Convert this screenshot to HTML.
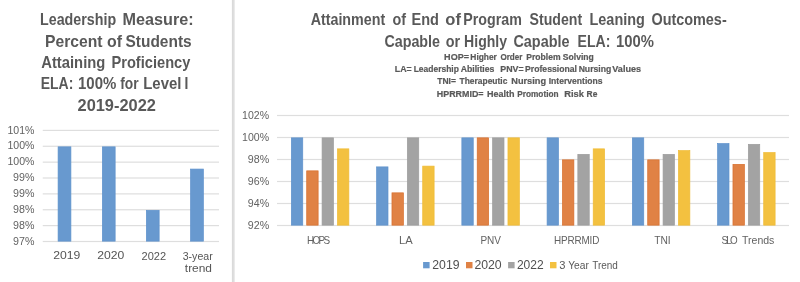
<!DOCTYPE html>
<html><head><meta charset="utf-8"><style>
html,body{margin:0;padding:0;background:#fff;width:800px;height:282px;overflow:hidden}
svg{display:block;font-family:"Liberation Sans",sans-serif}
text{will-change:transform}
</style></head><body>
<svg width="800" height="282" viewBox="0 0 800 282">
<rect width="800" height="282" fill="#fff"/>
<defs><linearGradient id="dv" x1="0" x2="1" y1="0" y2="0"><stop offset="0" stop-color="#d8d8d8"/><stop offset="0.5" stop-color="#dddddd"/><stop offset="1" stop-color="#ececec"/></linearGradient></defs>
<rect x="231.9" y="0" width="3.0" height="282" fill="url(#dv)"/>
<text transform="translate(40.07,24.90) scale(0.8915,1)" font-size="16" font-weight="bold" fill="#595959" letter-spacing="0.000">Leadership</text>
<text transform="translate(122.55,24.90) scale(1.0136,1)" font-size="16" font-weight="bold" fill="#595959" letter-spacing="0.000">Measure:</text>
<text transform="translate(44.98,46.60) scale(0.9819,1)" font-size="16" font-weight="bold" fill="#595959" letter-spacing="0.000">Percent</text>
<text transform="translate(106.96,46.60) scale(0.9945,1)" font-size="16" font-weight="bold" fill="#595959" letter-spacing="0.000">of</text>
<text transform="translate(125.54,46.60) scale(0.9661,1)" font-size="16" font-weight="bold" fill="#595959" letter-spacing="0.000">Students</text>
<text transform="translate(41.23,68.25) scale(0.9257,1)" font-size="16" font-weight="bold" fill="#595959" letter-spacing="0.000">Attaining</text>
<text transform="translate(111.45,68.25) scale(0.9164,1)" font-size="16" font-weight="bold" fill="#595959" letter-spacing="0.000">Proficiency</text>
<text transform="translate(40.69,88.90) scale(0.8756,1)" font-size="16" font-weight="bold" fill="#595959" letter-spacing="0.000">ELA:</text>
<text transform="translate(78.03,88.90) scale(0.9362,1)" font-size="16" font-weight="bold" fill="#595959" letter-spacing="0.000">100%</text>
<text transform="translate(120.19,88.90) scale(0.8621,1)" font-size="16" font-weight="bold" fill="#595959" letter-spacing="0.000">for</text>
<text transform="translate(143.23,88.90) scale(0.9349,1)" font-size="16" font-weight="bold" fill="#595959" letter-spacing="0.000">Level</text>
<text transform="translate(184.60,88.90) scale(0.8621,1)" font-size="16" font-weight="bold" fill="#595959" letter-spacing="0.000">I</text>
<text transform="translate(77.53,110.75) scale(1.0248,1)" font-size="16" font-weight="bold" fill="#595959" letter-spacing="0.000">2019-2022</text>
<rect x="42.75" y="129.80" width="176.25" height="1.20" fill="#dedede"/>
<text transform="translate(7.41,133.50) scale(0.9699,1)" font-size="10.9" font-weight="normal" fill="#626262" letter-spacing="0.000">101%</text>
<rect x="42.75" y="145.67" width="176.25" height="1.20" fill="#dedede"/>
<text transform="translate(7.41,149.37) scale(0.9699,1)" font-size="10.9" font-weight="normal" fill="#626262" letter-spacing="0.000">100%</text>
<rect x="42.75" y="161.54" width="176.25" height="1.20" fill="#dedede"/>
<text transform="translate(7.41,165.24) scale(0.9699,1)" font-size="10.9" font-weight="normal" fill="#626262" letter-spacing="0.000">100%</text>
<rect x="42.75" y="177.41" width="176.25" height="1.20" fill="#dedede"/>
<text transform="translate(13.12,181.11) scale(0.9795,1)" font-size="10.9" font-weight="normal" fill="#626262" letter-spacing="0.000">99%</text>
<rect x="42.75" y="193.28" width="176.25" height="1.20" fill="#dedede"/>
<text transform="translate(13.12,196.98) scale(0.9795,1)" font-size="10.9" font-weight="normal" fill="#626262" letter-spacing="0.000">99%</text>
<rect x="42.75" y="209.15" width="176.25" height="1.20" fill="#dedede"/>
<text transform="translate(13.12,212.85) scale(0.9795,1)" font-size="10.9" font-weight="normal" fill="#626262" letter-spacing="0.000">98%</text>
<rect x="42.75" y="225.02" width="176.25" height="1.20" fill="#dedede"/>
<text transform="translate(13.12,228.72) scale(0.9795,1)" font-size="10.9" font-weight="normal" fill="#626262" letter-spacing="0.000">98%</text>
<rect x="42.75" y="240.89" width="176.25" height="1.20" fill="#dedede"/>
<text transform="translate(13.12,244.59) scale(0.9795,1)" font-size="10.9" font-weight="normal" fill="#626262" letter-spacing="0.000">97%</text>
<rect x="58.10" y="146.85" width="12.80" height="94.29" fill="#6899cf" stroke="#5e92cc" stroke-width="0.7"/>
<rect x="102.35" y="146.85" width="12.80" height="94.29" fill="#6899cf" stroke="#5e92cc" stroke-width="0.7"/>
<rect x="146.35" y="210.33" width="12.80" height="30.81" fill="#6899cf" stroke="#5e92cc" stroke-width="0.7"/>
<rect x="190.55" y="169.07" width="12.80" height="72.07" fill="#6899cf" stroke="#5e92cc" stroke-width="0.7"/>
<text transform="translate(53.14,259.40) scale(1.0899,1)" font-size="11.2" font-weight="normal" fill="#555555" letter-spacing="0.000">2019</text>
<text transform="translate(97.14,259.40) scale(1.0873,1)" font-size="11.2" font-weight="normal" fill="#555555" letter-spacing="0.000">2020</text>
<text transform="translate(141.55,259.60) scale(0.9874,1)" font-size="11.2" font-weight="normal" fill="#555555" letter-spacing="0.000">2022</text>
<text transform="translate(182.68,259.60) scale(0.9459,1)" font-size="11.2" font-weight="normal" fill="#555555" letter-spacing="0.000">3-year</text>
<text transform="translate(184.82,272.25) scale(1.0653,1)" font-size="11.2" font-weight="normal" fill="#555555" letter-spacing="0.000">trend</text>
<text transform="translate(310.64,24.75) scale(0.8920,1)" font-size="16" font-weight="bold" fill="#595959" letter-spacing="0.000">Attainment</text>
<text transform="translate(392.43,24.75) scale(0.8978,1)" font-size="16" font-weight="bold" fill="#595959" letter-spacing="0.000">of</text>
<text transform="translate(411.45,24.75) scale(0.9091,1)" font-size="16" font-weight="bold" fill="#595959" letter-spacing="0.000">End</text>
<text transform="translate(445.34,24.75) scale(1.0359,1)" font-size="16" font-weight="bold" fill="#595959" letter-spacing="0.000">of</text>
<text transform="translate(463.27,24.75) scale(0.8908,1)" font-size="16" font-weight="bold" fill="#595959" letter-spacing="0.000">Program</text>
<text transform="translate(529.58,24.75) scale(0.8832,1)" font-size="16" font-weight="bold" fill="#595959" letter-spacing="0.000">Student</text>
<text transform="translate(589.46,24.75) scale(0.9042,1)" font-size="16" font-weight="bold" fill="#595959" letter-spacing="0.000">Leaning</text>
<text transform="translate(651.42,24.75) scale(0.9014,1)" font-size="16" font-weight="bold" fill="#595959" letter-spacing="0.000">Outcomes-</text>
<text transform="translate(384.43,46.50) scale(0.8945,1)" font-size="16" font-weight="bold" fill="#595959" letter-spacing="0.000">Capable</text>
<text transform="translate(445.82,46.50) scale(0.8995,1)" font-size="16" font-weight="bold" fill="#595959" letter-spacing="0.000">or</text>
<text transform="translate(464.09,46.50) scale(0.8794,1)" font-size="16" font-weight="bold" fill="#595959" letter-spacing="0.000">Highly</text>
<text transform="translate(513.42,46.50) scale(0.9010,1)" font-size="16" font-weight="bold" fill="#595959" letter-spacing="0.000">Capable</text>
<text transform="translate(577.48,46.50) scale(0.8813,1)" font-size="16" font-weight="bold" fill="#595959" letter-spacing="0.000">ELA:</text>
<text transform="translate(616.04,46.50) scale(0.9261,1)" font-size="16" font-weight="bold" fill="#595959" letter-spacing="0.000">100%</text>
<text transform="translate(444.11,59.75) scale(1.0551,1)" font-size="8.6" font-weight="bold" fill="#595959" letter-spacing="0.000" stroke="#595959" stroke-width="0.2">HOP=</text>
<text transform="translate(470.36,59.75) scale(0.9746,1)" font-size="8.6" font-weight="bold" fill="#595959" letter-spacing="0.000" stroke="#595959" stroke-width="0.2">Higher</text>
<text transform="translate(500.38,59.75) scale(0.9407,1)" font-size="8.6" font-weight="bold" fill="#595959" letter-spacing="0.000" stroke="#595959" stroke-width="0.2">Order</text>
<text transform="translate(526.24,59.75) scale(0.9975,1)" font-size="8.6" font-weight="bold" fill="#595959" letter-spacing="0.000" stroke="#595959" stroke-width="0.2">Problem</text>
<text transform="translate(562.84,59.75) scale(0.9957,1)" font-size="8.6" font-weight="bold" fill="#595959" letter-spacing="0.000" stroke="#595959" stroke-width="0.2">Solving</text>
<text transform="translate(394.83,72.25) scale(1.0250,1)" font-size="8.6" font-weight="bold" fill="#595959" letter-spacing="0.000" stroke="#595959" stroke-width="0.2">LA=</text>
<text transform="translate(413.65,72.25) scale(0.9871,1)" font-size="8.6" font-weight="bold" fill="#595959" letter-spacing="0.000" stroke="#595959" stroke-width="0.2">Leadership</text>
<text transform="translate(460.68,72.25) scale(1.0093,1)" font-size="8.6" font-weight="bold" fill="#595959" letter-spacing="0.000" stroke="#595959" stroke-width="0.2">Abilities</text>
<text transform="translate(500.32,72.25) scale(1.0321,1)" font-size="8.6" font-weight="bold" fill="#595959" letter-spacing="0.000" stroke="#595959" stroke-width="0.2">PNV=</text>
<text transform="translate(525.04,72.25) scale(1.0072,1)" font-size="8.6" font-weight="bold" fill="#595959" letter-spacing="0.000" stroke="#595959" stroke-width="0.2">Professional</text>
<text transform="translate(578.64,72.25) scale(1.0049,1)" font-size="8.6" font-weight="bold" fill="#595959" letter-spacing="0.000" stroke="#595959" stroke-width="0.2">Nursing</text>
<text transform="translate(612.31,72.25) scale(1.0547,1)" font-size="8.6" font-weight="bold" fill="#595959" letter-spacing="0.000" stroke="#595959" stroke-width="0.2">Values</text>
<text transform="translate(437.32,83.75) scale(0.9866,1)" font-size="8.6" font-weight="bold" fill="#595959" letter-spacing="0.000" stroke="#595959" stroke-width="0.2">TNI=</text>
<text transform="translate(459.52,83.75) scale(0.9819,1)" font-size="8.6" font-weight="bold" fill="#595959" letter-spacing="0.000" stroke="#595959" stroke-width="0.2">Therapeutic</text>
<text transform="translate(511.30,83.75) scale(1.0687,1)" font-size="8.6" font-weight="bold" fill="#595959" letter-spacing="0.000" stroke="#595959" stroke-width="0.2">Nursing</text>
<text transform="translate(548.74,83.75) scale(0.9961,1)" font-size="8.6" font-weight="bold" fill="#595959" letter-spacing="0.000" stroke="#595959" stroke-width="0.2">Interventions</text>
<text transform="translate(436.82,96.70) scale(1.0351,1)" font-size="8.6" font-weight="bold" fill="#595959" letter-spacing="0.000" stroke="#595959" stroke-width="0.2">HPRRMID=</text>
<text transform="translate(487.11,96.70) scale(1.0477,1)" font-size="8.6" font-weight="bold" fill="#595959" letter-spacing="0.000" stroke="#595959" stroke-width="0.2">Health</text>
<text transform="translate(517.26,96.70) scale(0.9612,1)" font-size="8.6" font-weight="bold" fill="#595959" letter-spacing="0.000" stroke="#595959" stroke-width="0.2">Promotion</text>
<text transform="translate(564.29,96.70) scale(1.0860,1)" font-size="8.6" font-weight="bold" fill="#595959" letter-spacing="0.000" stroke="#595959" stroke-width="0.2">Risk</text>
<text transform="translate(586.55,96.70) scale(0.9797,1)" font-size="8.6" font-weight="bold" fill="#595959" letter-spacing="0.000" stroke="#595959" stroke-width="0.2">Re</text>
<rect x="277.00" y="114.90" width="512.00" height="1.20" fill="#dedede"/>
<text transform="translate(242.11,118.90) scale(0.9175,1)" font-size="11.5" font-weight="normal" fill="#626262" letter-spacing="0.000">102%</text>
<rect x="277.00" y="136.90" width="512.00" height="1.20" fill="#dedede"/>
<text transform="translate(242.11,140.90) scale(0.9175,1)" font-size="11.5" font-weight="normal" fill="#626262" letter-spacing="0.000">100%</text>
<rect x="277.00" y="158.90" width="512.00" height="1.20" fill="#dedede"/>
<text transform="translate(247.77,162.90) scale(0.9284,1)" font-size="11.5" font-weight="normal" fill="#626262" letter-spacing="0.000">98%</text>
<rect x="277.00" y="180.90" width="512.00" height="1.20" fill="#dedede"/>
<text transform="translate(247.77,184.90) scale(0.9284,1)" font-size="11.5" font-weight="normal" fill="#626262" letter-spacing="0.000">96%</text>
<rect x="277.00" y="202.90" width="512.00" height="1.20" fill="#dedede"/>
<text transform="translate(247.77,206.90) scale(0.9284,1)" font-size="11.5" font-weight="normal" fill="#626262" letter-spacing="0.000">94%</text>
<rect x="277.00" y="224.90" width="512.00" height="1.20" fill="#dedede"/>
<text transform="translate(247.77,228.90) scale(0.9284,1)" font-size="11.5" font-weight="normal" fill="#626262" letter-spacing="0.000">92%</text>
<rect x="291.35" y="137.85" width="11.40" height="87.30" fill="#6899cf" stroke="#5e92cc" stroke-width="0.7"/>
<rect x="306.72" y="170.85" width="11.40" height="54.30" fill="#e08245" stroke="#d76e2c" stroke-width="0.7"/>
<rect x="322.09" y="137.85" width="11.40" height="87.30" fill="#a3a3a3" stroke="#9d9d9d" stroke-width="0.7"/>
<rect x="337.46" y="148.85" width="11.40" height="76.30" fill="#f3c140" stroke="#efbb35" stroke-width="0.7"/>
<rect x="376.60" y="166.89" width="11.40" height="58.26" fill="#6899cf" stroke="#5e92cc" stroke-width="0.7"/>
<rect x="391.97" y="192.85" width="11.40" height="32.30" fill="#e08245" stroke="#d76e2c" stroke-width="0.7"/>
<rect x="407.34" y="137.85" width="11.40" height="87.30" fill="#a3a3a3" stroke="#9d9d9d" stroke-width="0.7"/>
<rect x="422.71" y="166.12" width="11.40" height="59.03" fill="#f3c140" stroke="#efbb35" stroke-width="0.7"/>
<rect x="461.85" y="137.85" width="11.40" height="87.30" fill="#6899cf" stroke="#5e92cc" stroke-width="0.7"/>
<rect x="477.22" y="137.85" width="11.40" height="87.30" fill="#e08245" stroke="#d76e2c" stroke-width="0.7"/>
<rect x="492.59" y="137.85" width="11.40" height="87.30" fill="#a3a3a3" stroke="#9d9d9d" stroke-width="0.7"/>
<rect x="507.96" y="137.85" width="11.40" height="87.30" fill="#f3c140" stroke="#efbb35" stroke-width="0.7"/>
<rect x="547.10" y="137.85" width="11.40" height="87.30" fill="#6899cf" stroke="#5e92cc" stroke-width="0.7"/>
<rect x="562.47" y="159.85" width="11.40" height="65.30" fill="#e08245" stroke="#d76e2c" stroke-width="0.7"/>
<rect x="577.84" y="154.35" width="11.40" height="70.80" fill="#a3a3a3" stroke="#9d9d9d" stroke-width="0.7"/>
<rect x="593.21" y="148.85" width="11.40" height="76.30" fill="#f3c140" stroke="#efbb35" stroke-width="0.7"/>
<rect x="632.35" y="137.85" width="11.40" height="87.30" fill="#6899cf" stroke="#5e92cc" stroke-width="0.7"/>
<rect x="647.72" y="159.85" width="11.40" height="65.30" fill="#e08245" stroke="#d76e2c" stroke-width="0.7"/>
<rect x="663.09" y="154.35" width="11.40" height="70.80" fill="#a3a3a3" stroke="#9d9d9d" stroke-width="0.7"/>
<rect x="678.46" y="150.61" width="11.40" height="74.54" fill="#f3c140" stroke="#efbb35" stroke-width="0.7"/>
<rect x="717.60" y="143.57" width="11.40" height="81.58" fill="#6899cf" stroke="#5e92cc" stroke-width="0.7"/>
<rect x="732.97" y="164.36" width="11.40" height="60.79" fill="#e08245" stroke="#d76e2c" stroke-width="0.7"/>
<rect x="748.34" y="144.34" width="11.40" height="80.81" fill="#a3a3a3" stroke="#9d9d9d" stroke-width="0.7"/>
<rect x="763.71" y="152.59" width="11.40" height="72.56" fill="#f3c140" stroke="#efbb35" stroke-width="0.7"/>
<text transform="translate(306.95,243.75) scale(0.8500,1)" font-size="11.7" font-weight="normal" fill="#626262" letter-spacing="-1.922">HOPS</text>
<text transform="translate(399.11,243.75) scale(0.9559,1)" font-size="11.7" font-weight="normal" fill="#626262" letter-spacing="0.000">LA</text>
<text transform="translate(480.45,243.75) scale(0.8569,1)" font-size="11.7" font-weight="normal" fill="#626262" letter-spacing="0.000">PNV</text>
<text transform="translate(553.95,243.75) scale(0.8500,1)" font-size="11.7" font-weight="normal" fill="#626262" letter-spacing="-0.177">HPRRMID</text>
<text transform="translate(654.14,243.75) scale(0.8776,1)" font-size="11.7" font-weight="normal" fill="#626262" letter-spacing="0.000">TNI</text>
<text transform="translate(721.45,243.75) scale(0.8500,1)" font-size="11.7" font-weight="normal" fill="#626262" letter-spacing="-2.144">SLO</text>
<text transform="translate(741.99,243.75) scale(0.9001,1)" font-size="11.7" font-weight="normal" fill="#626262" letter-spacing="0.000">Trends</text>
<rect x="423.10" y="262.00" width="6.50" height="6.30" fill="#6899cf"/>
<rect x="466.00" y="262.00" width="6.50" height="6.30" fill="#e08245"/>
<rect x="508.10" y="262.00" width="6.50" height="6.30" fill="#a3a3a3"/>
<rect x="550.00" y="262.00" width="6.50" height="6.30" fill="#f3c140"/>
<text transform="translate(432.29,268.90) scale(0.9803,1)" font-size="12.5" font-weight="normal" fill="#505050" letter-spacing="0.000">2019</text>
<text transform="translate(474.39,268.90) scale(0.9836,1)" font-size="12.5" font-weight="normal" fill="#505050" letter-spacing="0.000">2020</text>
<text transform="translate(516.90,268.90) scale(0.9638,1)" font-size="12.5" font-weight="normal" fill="#505050" letter-spacing="0.000">2022</text>
<text transform="translate(559.30,268.50) scale(1.0155,1)" font-size="11" font-weight="normal" fill="#595959" letter-spacing="0.000">3</text>
<text transform="translate(568.24,268.50) scale(0.9298,1)" font-size="11" font-weight="normal" fill="#595959" letter-spacing="0.000">Year</text>
<text transform="translate(592.25,268.50) scale(0.9054,1)" font-size="11" font-weight="normal" fill="#595959" letter-spacing="0.000">Trend</text>
</svg>
</body></html>
